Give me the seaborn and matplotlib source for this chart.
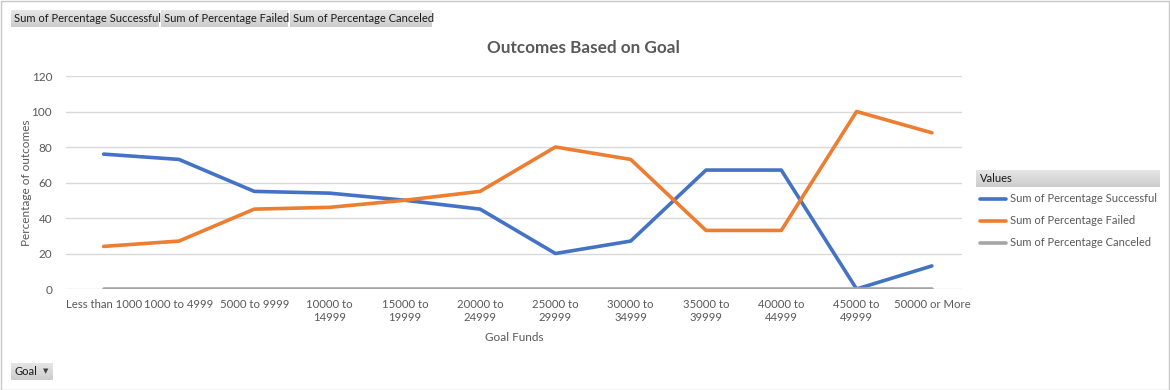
import numpy as np
import pandas as pd
import matplotlib
matplotlib.use("Agg")
import matplotlib.pyplot as plt
from matplotlib.lines import Line2D
from matplotlib.patches import Rectangle
import seaborn as sns

categories = ["Less than 1000", "1000 to 4999", "5000 to 9999", "10000 to\n14999",
              "15000 to\n19999", "20000 to\n24999", "25000 to\n29999", "30000 to\n34999",
              "35000 to\n39999", "40000 to\n44999", "45000 to\n49999", "50000 or More"]
successful = [76, 73, 55, 54, 50, 45, 20, 27, 67, 67, 0, 13]
failed = [24, 27, 45, 46, 50, 55, 80, 73, 33, 33, 100, 88]
canceled = [0, 0, 0, 0, 0, 0, 0, 0, 0, 0, 0, 0]
series_names = ["Sum of Percentage Successful", "Sum of Percentage Failed", "Sum of Percentage Canceled"]
yticks = [0, 20, 40, 60, 80, 100, 120]

sns.set_theme(style="white")
plt.rcParams['font.family'] = ['Lato', 'DejaVu Sans']

text_col = "#595959"
colors = ["#4472C4", "#ED7D31", "#A5A5A5"]

df = pd.DataFrame({
    "pos": list(range(len(categories))) * 3,
    "value": successful + failed + canceled,
    "series": [series_names[0]] * 12 + [series_names[1]] * 12 + [series_names[2]] * 12,
})

fig = plt.figure(figsize=(11.7, 3.9), dpi=100)
W, H = 1170, 390
ax = fig.add_axes([66 / W, 1 - 289 / H, (962 - 66) / W, (289 - 76) / H])

for y in yticks:
    ax.axhline(y, color="#D9D9D9", lw=1, zorder=0)

sns.lineplot(data=df, x="pos", y="value", hue="series", hue_order=series_names,
             palette=colors, linewidth=2.6, ax=ax, legend=False, sort=False, zorder=3)

ax.set_xlim(-0.5, 11.4)
ax.set_ylim(0, 120)
ax.set_xticks(range(len(categories)))
ax.set_xticklabels(categories, fontsize=8.2, color=text_col, linespacing=1.3)
ax.set_yticks(yticks)
ax.set_yticklabels([str(v) for v in yticks], fontsize=8.5, color=text_col)
ax.tick_params(axis="both", length=0, pad=7)
ax.tick_params(axis="y", pad=10)
for s in ax.spines.values():
    s.set_visible(False)
ax.set_xlabel("Goal Funds", fontsize=8.5, color=text_col, labelpad=6)
ax.set_ylabel("Percentage of outcomes", fontsize=8.5, color=text_col, labelpad=0)
ax.yaxis.set_label_coords(-(66 - 32) / 896, 0.5)

fig.text(583 / W, 1 - 48 / H, "Outcomes Based on Goal", ha="center", va="center",
         fontsize=12.3, fontweight="bold", color=text_col)

# figure border
fig.add_artist(Rectangle((0.5 / W, 0.5 / H), 1 - 1.5 / W, 1 - 1.5 / H, transform=fig.transFigure,
                         fill=False, edgecolor="#C8C8C8", lw=1))

def gray_button(x0, y0, x1, y1):
    bax = fig.add_axes([x0 / W, 1 - y1 / H, (x1 - x0) / W, (y1 - y0) / H])
    grad = np.linspace(0.90, 0.80, 50).reshape(-1, 1)
    bax.imshow(grad, aspect="auto", cmap="gray", vmin=0, vmax=1, extent=[0, 1, 0, 1])
    bax.set_axis_off()

# top field buttons
btns = [(11, 159, "Sum of Percentage Successful"), (161, 288, "Sum of Percentage Failed"),
        (290, 432, "Sum of Percentage Canceled")]
for x0, x1, label in btns:
    gray_button(x0, 10, x1, 27)
    fig.text((x0 + 3) / W, 1 - 18.5 / H, label, ha="left", va="center", fontsize=8, color="#1a1a1a")

# Goal button
gray_button(11, 363, 53, 380)
fig.text(14 / W, 1 - 371.5 / H, "Goal", ha="left", va="center", fontsize=8, color="#1a1a1a")
fig.text(46 / W, 1 - 371 / H, "\u25BC", ha="center", va="center", fontsize=5,
         color="#404040", family=['DejaVu Sans'])

# legend
gray_button(976, 170, 1160, 187)
fig.text(980 / W, 1 - 178.5 / H, "Values", ha="left", va="center", fontsize=8, color="#1a1a1a")
for i, (name, c) in enumerate(zip(series_names, colors)):
    yy = 1 - (199 + 22 * i) / H
    fig.add_artist(Line2D([980 / W, 1006 / W], [yy, yy], color=c, lw=2.6, transform=fig.transFigure))
    fig.text(1010 / W, yy, name, ha="left", va="center", fontsize=8, color=text_col)

fig.savefig("out.png", dpi=100)
